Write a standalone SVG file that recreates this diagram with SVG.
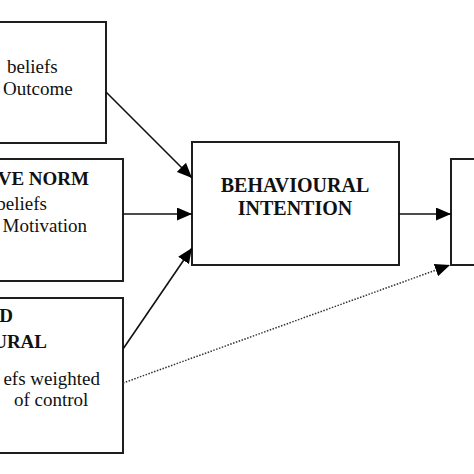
<svg xmlns="http://www.w3.org/2000/svg" width="474" height="474" viewBox="0 0 474 474">
  <style>
    .box { fill: #fff; stroke: #1e1e1e; stroke-width: 2; }
    .t { font-family: "Liberation Serif", "Times New Roman", serif; font-size: 19px; fill: #111; }
    .b { font-weight: bold; }
    .conn { stroke: #111; stroke-width: 1.6; fill: none; }
    .dot { stroke: #333; stroke-width: 1.5; stroke-dasharray: 1.5 1.5; fill: none; }
  </style>
  <defs>
    <marker id="ah" viewBox="0 0 15 13" refX="15" refY="6.5" markerWidth="15" markerHeight="13" markerUnits="userSpaceOnUse" orient="auto">
      <path d="M0,0 L15,6.5 L0,13 Z" fill="#000"/>
    </marker>
  </defs>
  <rect width="474" height="474" fill="#fff"/>

  <g id="attitude">
    <rect class="box" x="-10" y="22" width="116" height="121"/>
    <text class="t" x="7" y="73">beliefs</text>
    <text class="t" x="3" y="95">Outcome</text>
  </g>

  <g id="subjective-norm">
    <rect class="box" x="-10" y="159" width="133" height="122"/>
    <text class="t b" x="89" y="185" text-anchor="end">VE NORM</text>
    <text class="t" x="47" y="210" text-anchor="end">beliefs</text>
    <text class="t" x="87" y="232" text-anchor="end">Motivation</text>
  </g>

  <g id="perceived-control">
    <rect class="box" x="-10" y="298" width="133" height="155"/>
    <text class="t b" x="13" y="322" text-anchor="end">D</text>
    <text class="t b" x="47" y="348" text-anchor="end">URAL</text>
    <text class="t" x="100" y="385" text-anchor="end">efs weighted</text>
    <text class="t" x="14" y="406">of control</text>
  </g>

  <g id="intention">
    <rect class="box" x="192" y="142" width="207" height="123"/>
    <text class="t b" x="295" y="192" text-anchor="middle" style="font-size:20px">BEHAVIOURAL</text>
    <text class="t b" x="295" y="215" text-anchor="middle" style="font-size:20px">INTENTION</text>
  </g>

  <g id="behaviour">
    <rect class="box" x="451" y="159" width="40" height="106"/>
  </g>

  <g id="connectors">
    <line class="conn" x1="106" y1="92" x2="192" y2="178" marker-end="url(#ah)"/>
    <line class="conn" x1="123" y1="214" x2="192" y2="214" marker-end="url(#ah)"/>
    <line class="conn" x1="123" y1="349" x2="192" y2="248" marker-end="url(#ah)"/>
    <line class="conn" x1="399" y1="214" x2="451" y2="214" marker-end="url(#ah)"/>
    <line class="dot" x1="123" y1="383" x2="450" y2="265" marker-end="url(#ah)"/>
  </g>
</svg>
